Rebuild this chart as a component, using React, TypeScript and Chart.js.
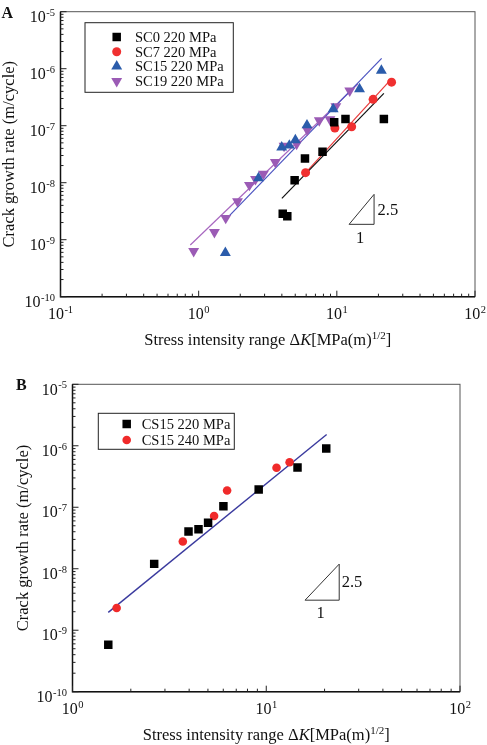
import React, { useEffect, useRef } from "react";
import { Chart, registerables } from "chart.js";

Chart.register(...registerables);

const FONT = '"Liberation Serif", "Times New Roman", serif';

// ---------------- Panel A data ----------------
const sc0X = [4.06, 4.38, 4.95, 5.88, 7.88, 9.57, 11.55, 21.9];
const sc0Y = [2.86e-9, 2.57e-9, 1.1e-8, 2.67e-8, 3.5e-8, 1.15e-7, 1.31e-7, 1.31e-7];
const sc7X = [5.94, 9.68, 12.8, 18.3, 24.9];
const sc7Y = [1.5e-8, 9.1e-8, 9.6e-8, 2.9e-7, 5.8e-7];
const sc15X = [1.56, 2.71, 3.99, 4.53, 5.01, 6.08, 9.41, 14.6, 21.0];
const sc15Y = [5.9e-10, 1.21e-8, 4.17e-8, 4.5e-8, 5.6e-8, 1.02e-7, 1.96e-7, 4.4e-7, 9.3e-7];
const sc19X = [0.92, 1.3, 1.57, 1.91, 2.33, 2.58, 2.94, 3.59, 4.15, 5.12, 6.11, 7.46, 8.91, 9.84, 12.4];
const sc19Y = [6.3e-10, 1.36e-9, 2.4e-9, 4.7e-9, 9.1e-9, 1.15e-8, 1.42e-8, 2.3e-8, 4.4e-8, 4.8e-8, 8.4e-8, 1.24e-7, 1.29e-7, 2.19e-7, 4.1e-7];

const fitSC0X = [4.0, 21.9];
const fitSC0Y = [5.3e-9, 3.7e-7];
const fitSC7X = [5.73, 24.2];
const fitSC7Y = [1.36e-8, 6.2e-7];
const fitSC15X = [1.56, 21.1];
const fitSC15Y = [2.22e-9, 1.52e-6];
const fitSC19X = [0.87, 14.2];
const fitSC19Y = [8.07e-10, 5.4e-7];

const slopeAX = [12.27, 18.6];
const slopeAY = [1.86e-9, 6.24e-9];

const labelsA = ["SC0 220 MPa", "SC7 220 MPa", "SC15 220 MPa", "SC19 220 MPa"];

// ---------------- Panel B data ----------------
const cs220X = [1.53, 2.64, 3.97, 4.47, 5.01, 6.01, 9.14, 14.5, 20.4];
const cs220Y = [5.8e-10, 1.2e-8, 4.04e-8, 4.4e-8, 5.6e-8, 1.04e-7, 1.95e-7, 4.44e-7, 9.05e-7];
const cs240X = [1.69, 3.71, 5.38, 6.28, 11.3, 13.2];
const cs240Y = [2.3e-9, 2.78e-8, 7.2e-8, 1.87e-7, 4.38e-7, 5.4e-7];
const fitBX = [1.53, 20.5];
const fitBY = [1.95e-9, 1.53e-6];

const slopeBX = [15.86, 23.8];
const slopeBY = [3.08e-9, 1.19e-8];

const labelsB = ["CS15 220 MPa", "CS15 240 MPa"];

const slopeText = ["2.5", "1"];
const yTitle = "Crack growth rate (m/cycle)";

const pts = (xs: number[], ys: number[]) => xs.map((x, i) => ({ x, y: ys[i] }));

function drawMarker(ctx: CanvasRenderingContext2D, style: string, rotDeg: number, r: number, x: number, y: number, color: string) {
  ctx.save();
  ctx.fillStyle = color;
  ctx.beginPath();
  if (style === "rect") {
    const s = r * Math.SQRT1_2;
    ctx.rect(x - s, y - s, 2 * s, 2 * s);
  } else if (style === "triangle") {
    let rad = ((rotDeg || 0) * Math.PI) / 180;
    ctx.moveTo(x + Math.sin(rad) * r, y - Math.cos(rad) * r);
    rad += (2 * Math.PI) / 3;
    ctx.lineTo(x + Math.sin(rad) * r, y - Math.cos(rad) * r);
    rad += (2 * Math.PI) / 3;
    ctx.lineTo(x + Math.sin(rad) * r, y - Math.cos(rad) * r);
    ctx.closePath();
  } else {
    ctx.arc(x, y, r, 0, Math.PI * 2);
  }
  ctx.fill();
  ctx.restore();
}

function drawPow(ctx: CanvasRenderingContext2D, exp: number, x: number, y: number, align: "right" | "center", baseDy: number, supDy: number) {
  const base = "10";
  const sup = String(exp);
  ctx.font = `16px ${FONT}`;
  const wb = ctx.measureText(base).width;
  ctx.font = `10.5px ${FONT}`;
  const ws = ctx.measureText(sup).width;
  const w = wb + ws + 0.5;
  const x0 = align === "right" ? x - w : x - w / 2;
  ctx.textAlign = "left";
  ctx.textBaseline = "alphabetic";
  ctx.font = `16px ${FONT}`;
  ctx.fillText(base, x0, y + baseDy);
  ctx.font = `10.5px ${FONT}`;
  ctx.fillText(sup, x0 + wb + 0.5, y + supDy);
}

const decorPlugin = {
  id: "decor",
  beforeDatasetsDraw(chart: any, _args: any, opts: any) {
    const { ctx, chartArea: a, scales } = chart;
    const xs = scales.x;
    const ys = scales.y;
    ctx.save();
    // frame
    ctx.strokeStyle = "#555";
    ctx.lineWidth = 1;
    ctx.strokeRect(a.left, a.top, a.right - a.left, a.bottom - a.top);
    ctx.strokeStyle = "#111";
    ctx.lineWidth = 1.5;
    ctx.beginPath();
    ctx.moveTo(a.left, a.top);
    ctx.lineTo(a.left, a.bottom);
    ctx.lineTo(a.right, a.bottom);
    ctx.stroke();

    // ticks
    ctx.strokeStyle = "#222";
    ctx.lineWidth = 1;
    ctx.beginPath();
    const lx0 = Math.round(Math.log10(xs.min));
    const lx1 = Math.round(Math.log10(xs.max));
    for (let d = lx0; d <= lx1; d++) {
      for (let m = 1; m <= 9; m++) {
        const v = m * Math.pow(10, d);
        if (v > xs.max * 1.0001) break;
        const px = xs.getPixelForValue(v);
        const len = m === 1 ? 6 : 3;
        ctx.moveTo(px, a.bottom);
        ctx.lineTo(px, a.bottom - len);
      }
    }
    const ly0 = Math.round(Math.log10(ys.min));
    const ly1 = Math.round(Math.log10(ys.max));
    for (let d = ly0; d <= ly1; d++) {
      for (let m = 1; m <= 9; m++) {
        const v = m * Math.pow(10, d);
        if (v > ys.max * 1.0001) break;
        const py = ys.getPixelForValue(v);
        const len = m === 1 ? 6 : 3;
        ctx.moveTo(a.left, py);
        ctx.lineTo(a.left + len, py);
      }
    }
    ctx.stroke();

    // tick labels
    ctx.fillStyle = "#111";
    for (let d = lx0; d <= lx1; d++) {
      const px = xs.getPixelForValue(Math.pow(10, d));
      drawPow(ctx, d, px, a.bottom, "center", 22.5, 16.5);
    }
    for (let d = ly0; d <= ly1; d++) {
      const py = ys.getPixelForValue(Math.pow(10, d));
      drawPow(ctx, d, a.left - 5.5, py, "right", 10.2, 4);
    }

    // x title with italic K and superscript
    const parts = [
      { t: "Stress intensity range ", f: `16.5px ${FONT}`, dy: 0 },
      { t: "\u0394", f: `16.5px ${FONT}`, dy: 0 },
      { t: "K", f: `italic 16.5px ${FONT}`, dy: 0 },
      { t: "[MPa(m)", f: `16.5px ${FONT}`, dy: 0 },
      { t: "1/2", f: `11px ${FONT}`, dy: -6.5 },
      { t: "]", f: `16.5px ${FONT}`, dy: 0 },
    ];
    let total = 0;
    const widths = parts.map((p) => {
      ctx.font = p.f;
      const w = ctx.measureText(p.t).width;
      total += w;
      return w;
    });
    let cx = (a.left + a.right) / 2 - total / 2;
    const by = a.bottom + 48.5;
    ctx.textAlign = "left";
    parts.forEach((p, i) => {
      ctx.font = p.f;
      ctx.fillText(p.t, cx, by + p.dy);
      cx += widths[i];
    });

    // y title
    ctx.save();
    ctx.translate(opts.yTitleX, (a.top + a.bottom) / 2);
    ctx.rotate(-Math.PI / 2);
    ctx.textAlign = "center";
    ctx.font = `16.5px ${FONT}`;
    ctx.fillText(yTitle, 0, 0);
    ctx.restore();

    // panel letter
    ctx.font = `bold 16px ${FONT}`;
    ctx.textAlign = "left";
    ctx.fillText(opts.letter, opts.letterX, opts.letterY);
    ctx.restore();
  },
  afterDatasetsDraw(chart: any, _args: any, opts: any) {
    const { ctx, scales } = chart;
    const xs = scales.x;
    const ys = scales.y;
    ctx.save();
    // slope triangle
    const sx0 = xs.getPixelForValue(opts.slopeX[0]);
    const sx1 = xs.getPixelForValue(opts.slopeX[1]);
    const sy0 = ys.getPixelForValue(opts.slopeY[0]);
    const sy1 = ys.getPixelForValue(opts.slopeY[1]);
    ctx.strokeStyle = "#333";
    ctx.lineWidth = 1;
    ctx.beginPath();
    ctx.moveTo(sx0, sy0);
    ctx.lineTo(sx1, sy0);
    ctx.lineTo(sx1, sy1);
    ctx.closePath();
    ctx.stroke();
    ctx.fillStyle = "#111";
    ctx.font = `16.5px ${FONT}`;
    ctx.textAlign = "left";
    ctx.textBaseline = "middle";
    ctx.fillText(slopeText[0], sx1 + opts.slopeGap, (sy0 + sy1) / 2 + 1);
    ctx.textAlign = "center";
    ctx.fillText(slopeText[1], (sx0 + sx1) / 2 - 1.5, sy0 + opts.oneDy);

    // legend
    const L = opts.legend;
    ctx.strokeStyle = "#222";
    ctx.lineWidth = 1;
    ctx.strokeRect(L.x, L.y, L.w, L.h);
    const items = chart.data.datasets.filter((d: any) => !d.showLine);
    ctx.font = `14.5px ${FONT}`;
    ctx.textAlign = "left";
    ctx.textBaseline = "alphabetic";
    items.forEach((d: any, i: number) => {
      const ry = L.rowY + i * L.step;
      drawMarker(ctx, d.pointStyle, d.pointRotation || 0, d.pointRadius, L.markerX, ry, d.backgroundColor);
      ctx.fillStyle = "#111";
      ctx.fillText(d.label, L.textX, ry + 5);
    });
    ctx.restore();
  },
};

function scatterSet(label: string, xs: number[], ys: number[], style: string, color: string, r: number, rot = 0) {
  return {
    label,
    data: pts(xs, ys),
    showLine: false,
    pointStyle: style,
    pointRadius: r,
    pointHoverRadius: r,
    pointRotation: rot,
    backgroundColor: color,
    borderColor: color,
    pointBorderWidth: 0,
    order: 0,
  };
}

function lineSet(xs: number[], ys: number[], color: string, w = 1.2) {
  return {
    label: "",
    data: pts(xs, ys),
    showLine: true,
    pointRadius: 0,
    borderColor: color,
    backgroundColor: color,
    borderWidth: w,
    fill: false,
    order: 1,
  };
}

function baseOptions(pad: any, xmin: number, xmax: number, decor: any) {
  return {
    responsive: false,
    maintainAspectRatio: false,
    animation: false,
    events: [],
    layout: { padding: pad },
    scales: {
      x: { type: "logarithmic", min: xmin, max: xmax, display: false },
      y: { type: "logarithmic", min: 1e-10, max: 1e-5, display: false },
    },
    plugins: {
      legend: { display: false },
      tooltip: { enabled: false },
      decor,
    },
  };
}

export default function App() {
  const refA = useRef<HTMLCanvasElement>(null);
  const refB = useRef<HTMLCanvasElement>(null);

  useEffect(() => {
    const chartA = new Chart(refA.current as HTMLCanvasElement, {
      type: "scatter",
      data: {
        datasets: [
          scatterSet(labelsA[0], sc0X, sc0Y, "rect", "#000000", 6),
          scatterSet(labelsA[1], sc7X, sc7Y, "circle", "#f03030", 4.5),
          scatterSet(labelsA[2], sc15X, sc15Y, "triangle", "#2b5cab", 6.3),
          scatterSet(labelsA[3], sc19X, sc19Y, "triangle", "#9b5bb5", 6.3, 180),
          lineSet(fitSC0X, fitSC0Y, "#111111"),
          lineSet(fitSC7X, fitSC7Y, "#e83a3a"),
          lineSet(fitSC15X, fitSC15Y, "#4a52c0"),
          lineSet(fitSC19X, fitSC19Y, "#a868c0"),
        ] as any,
      },
      options: baseOptions({ left: 60.5, right: 12, top: 11.7, bottom: 73.3 }, 0.1, 100, {
        letter: "A",
        letterX: 1.5,
        letterY: 17.5,
        yTitleX: 13.5,
        slopeX: slopeAX,
        slopeY: slopeAY,
        slopeGap: 3.5,
        oneDy: 14.5,
        legend: { x: 85, y: 22.7, w: 148.3, h: 69.6, markerX: 116.7, textX: 135, rowY: 37, step: 14.7 },
      }) as any,
      plugins: [decorPlugin as any],
    });

    const chartB = new Chart(refB.current as HTMLCanvasElement, {
      type: "scatter",
      data: {
        datasets: [
          scatterSet(labelsB[0], cs220X, cs220Y, "rect", "#000000", 6),
          scatterSet(labelsB[1], cs240X, cs240Y, "circle", "#f02a2a", 4.3),
          lineSet(fitBX, fitBY, "#3a3a9e", 1.4),
        ] as any,
      },
      options: baseOptions({ left: 72.5, right: 27, top: 14.3, bottom: 53.3 }, 1, 100, {
        letter: "B",
        letterX: 16,
        letterY: 20,
        yTitleX: 28.3,
        slopeX: slopeBX,
        slopeY: slopeBY,
        slopeGap: 2.5,
        oneDy: 13,
        legend: { x: 98.3, y: 43.3, w: 136, h: 36, markerX: 126.7, textX: 141.7, rowY: 54, step: 16 },
      }) as any,
      plugins: [decorPlugin as any],
    });

    return () => {
      chartA.destroy();
      chartB.destroy();
    };
  }, []);

  return (
    <div style={{ position: "absolute", left: 0, top: 0, width: 487, height: 745, background: "#fff" }}>
      <canvas ref={refA} width={487} height={370} style={{ display: "block", width: 487, height: 370 }} />
      <canvas ref={refB} width={487} height={375} style={{ display: "block", width: 487, height: 375 }} />
    </div>
  );
}
